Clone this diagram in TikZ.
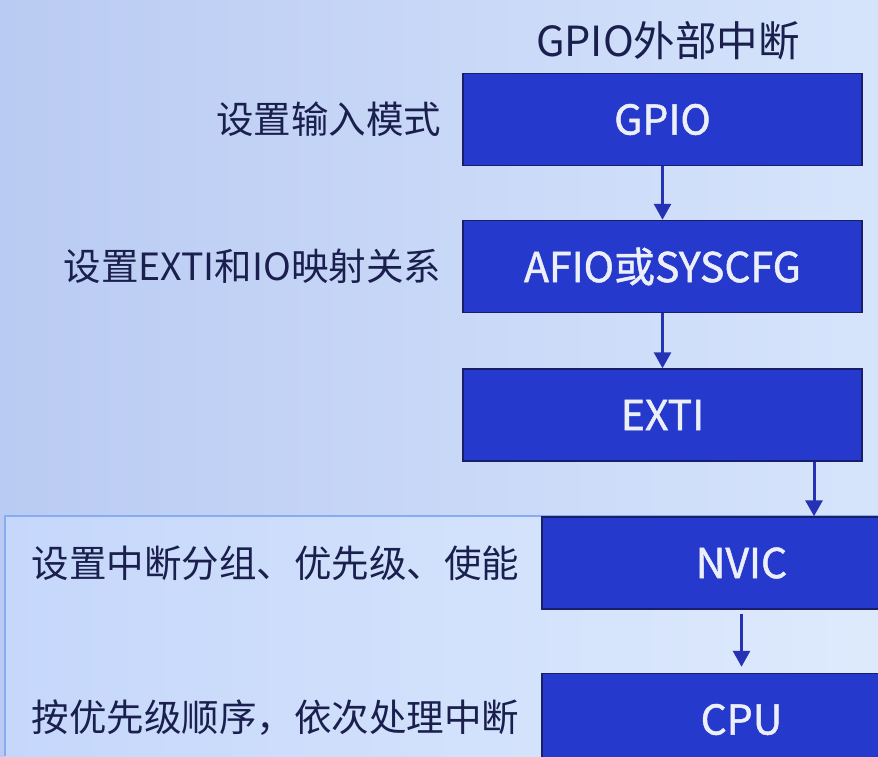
\documentclass[tikz,border=0pt]{standalone}
\usepackage{fontspec}
\setmainfont{Noto Sans CJK SC}
\newfontfamily\fontecaixa[FakeBold=1.2]{Noto Sans CJK SC}
\usetikzlibrary{positioning,arrows.meta}
\definecolor{fundoE}{RGB}{186,203,243}
\definecolor{fundoD}{RGB}{214,228,251}
\definecolor{painelE}{RGB}{197,215,251}
\definecolor{painelD}{RGB}{222,234,252}
\definecolor{bordaPainel}{RGB}{135,172,240}
\definecolor{azulCaixa}{RGB}{37,57,204}
\definecolor{bordaAzul}{RGB}{24,30,105}
\definecolor{azulSeta}{RGB}{38,50,180}
\definecolor{textoCaixa}{RGB}{236,239,247}
\definecolor{textoRotulo}{RGB}{26,31,78}
\begin{document}
\begin{tikzpicture}[x=1pt,y=-1pt,
        caixa/.style={draw=bordaAzul,line width=1.5pt,fill=azulCaixa,text=textoCaixa,
            minimum width=399pt,minimum height=92pt,inner sep=0pt,font=\fontecaixa\fontsize{41}{43}\selectfont},
        rotulo/.style={text=textoRotulo,inner sep=0pt,font=\fontsize{37.5}{40}\selectfont},
        seta/.style={draw=azulSeta,line width=3pt,-{Triangle[width=17pt,length=16pt]}}]
        \useasboundingbox (0,0) rectangle (878,756);
        \clip (0,0) rectangle (878,756);
        % Fundo
        \shade[left color=fundoE,right color=fundoD] (0,0) rectangle (878,756);
        % Painel de baixo
        \shade[left color=painelE,right color=painelD] (5,516) rectangle (878,756);
        \draw[bordaPainel,line width=2pt] (5,756) -- (5,516) -- (878,516);
        % Titulo
        \node[rotulo,font=\fontsize{41.5}{44}\selectfont] (titulo) at (668,41) {GPIO外部中断};
        % Caixas
        \node[caixa] (gpio) at (662.5,119.5) {GPIO};
        \node[caixa] (afio) at (662.5,266.5) {AFIO或SYSCFG};
        \node[caixa] (exti) at (662.5,415) {EXTI};
        \node[caixa] (nvic) at (741.5,563) {NVIC};
        \node[caixa] (cpu) at (741.5,719.5) {CPU};
        % Setas
        \draw[seta] (gpio.south) -- (afio.north);
        \draw[seta] (afio.south) -- (exti.north);
        \draw[seta] ([xshift=151.5pt]exti.south) -- ([xshift=72.5pt]nvic.north);
        \draw[seta] ([yshift=-4pt]nvic.south) -- ([yshift=6pt]cpu.north);
        % Rotulos
        \node[rotulo,left=21pt of gpio] (modo) {设置输入模式};
        \node[rotulo,left=21pt of afio] (mapa) {设置EXTI和IO映射关系};
        \node[rotulo,left=22pt of nvic] (grupo) {设置中断分组、优先级、使能};
        \node[rotulo,left=22pt of cpu,yshift=1.5pt] (ordem) {按优先级顺序，依次处理中断};
\end{tikzpicture}
\end{document}
